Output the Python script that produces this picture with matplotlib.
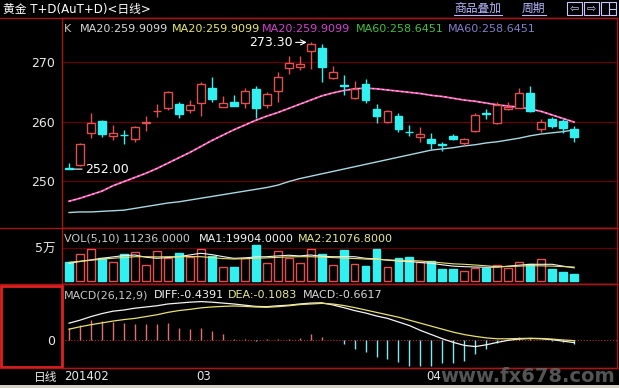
import numpy as np
import matplotlib
matplotlib.use('Agg')
import matplotlib.pyplot as plt
import matplotlib.transforms as mtransforms
from matplotlib.lines import Line2D
from matplotlib.patches import Rectangle

# ---- datos (velas diarias, oro T+D) ----
opens = [252.2, 252.7, 258.1, 260.1, 257.6, 257.8, 257.1, 259.8, 261.7, 262.3,
         262.9, 261.9, 263.1, 265.6, 262.4, 263.3, 263.1, 265.5, 262.8, 265.1,
         269.0, 269.2, 271.8, 272.4, 267.3, 266.1, 263.9, 266.3, 262.1, 259.9,
         260.9, 258.3, 257.4, 257.1, 256.2, 257.6, 256.4, 258.4, 261.4, 259.7,
         262.1, 262.3, 264.8, 258.7, 260.4, 260.1, 258.7]
highs = [253.0, 256.4, 261.4, 260.2, 259.4, 258.6, 259.2, 261.0, 263.0, 265.1,
         263.3, 263.6, 266.6, 267.5, 264.3, 264.5, 265.6, 266.0, 264.9, 268.3,
         271.0, 271.0, 273.3, 273.0, 269.4, 267.9, 266.8, 267.2, 263.0, 261.9,
         261.4, 259.4, 259.1, 258.1, 256.6, 257.9, 257.2, 261.4, 262.1, 263.3,
         263.2, 265.7, 266.0, 260.5, 260.8, 260.4, 259.2]
lows = [252.0, 252.5, 257.2, 257.4, 256.9, 256.3, 256.5, 258.4, 260.7, 262.0,
        260.6, 261.4, 260.9, 263.3, 262.4, 262.6, 262.3, 260.6, 262.2, 263.3,
        268.0, 268.7, 268.9, 266.6, 267.1, 264.4, 263.8, 263.1, 259.7, 259.8,
        258.2, 257.6, 256.5, 255.3, 255.1, 256.9, 255.8, 258.2, 260.4, 259.6,
        261.9, 262.2, 261.6, 258.2, 258.9, 258.0, 256.6]
closes = [252.1, 256.2, 259.7, 257.9, 258.1, 257.7, 259.1, 259.9, 261.8, 265.0,
          261.3, 262.7, 266.3, 263.8, 263.1, 262.6, 265.1, 262.3, 264.6, 267.5,
          269.8, 269.7, 273.0, 269.2, 268.3, 266.0, 265.5, 263.6, 260.9, 261.8,
          258.7, 258.2, 257.9, 256.4, 256.1, 257.1, 257.1, 261.1, 261.3, 262.8,
          262.4, 264.8, 261.8, 259.9, 259.2, 258.9, 257.4]

ma20 = [246.6, 247.1, 247.7, 248.3, 249.2, 249.9, 250.6, 251.3, 252.1, 253.0,
        253.9, 254.8, 255.8, 256.8, 257.7, 258.6, 259.4, 260.2, 260.9, 261.5,
        262.2, 262.9, 263.6, 264.3, 264.8, 265.2, 265.5, 265.6, 265.5, 265.3,
        265.1, 264.9, 264.7, 264.4, 264.2, 263.9, 263.6, 263.4, 263.1, 262.8,
        262.6, 262.4, 262.1, 261.7, 261.1, 260.5, 259.9]
ma60 = [244.7, 244.8, 244.8, 244.9, 245.0, 245.1, 245.4, 245.7, 246.0, 246.3,
        246.5, 246.8, 247.1, 247.4, 247.7, 248.0, 248.3, 248.6, 248.9, 249.3,
        249.9, 250.4, 250.8, 251.2, 251.6, 252.0, 252.4, 252.8, 253.2, 253.6,
        254.0, 254.4, 254.8, 255.2, 255.4, 255.6, 255.9, 256.1, 256.4, 256.6,
        256.9, 257.2, 257.6, 257.9, 258.1, 258.3, 258.6]

volume = [29200, 40400, 48500, 34400, 29000, 40400, 43400, 24200, 45400, 35300,
          42400, 36800, 48500, 37900, 21700, 21200, 34400, 54500, 26800, 45400,
          35300, 26800, 48500, 40400, 24200, 47000, 25700, 23200, 48500, 21200,
          34400, 35900, 28300, 30300, 18200, 18200, 15200, 19200, 19200, 24200,
          19200, 28300, 25200, 33300, 18200, 13200, 11236]
vol_ma1 = [26800, 29500, 32000, 34400, 36500, 38500, 39400, 36000, 34400, 35500,
           36800, 39500, 42000, 40000, 37000, 34400, 35000, 36500, 36800, 38000,
           39000, 38000, 39400, 37500, 36800, 36800, 36800, 34400, 33500, 31500,
           30300, 29500, 28000, 26800, 24500, 22500, 21700, 21200, 20800, 21000,
           22500, 24000, 25300, 25300, 25300, 22500, 19904]
vol_ma2 = [28300, 30000, 31500, 33000, 34500, 35500, 36800, 36800, 36500, 36800,
           36800, 37000, 36800, 35500, 34000, 33300, 33800, 34400, 35000, 35800,
           36500, 36800, 36800, 36300, 35500, 34800, 34000, 33300, 32700, 32000,
           31500, 31000, 30300, 29000, 27500, 26000, 25300, 24200, 23000, 21700,
           22000, 22500, 23200, 23000, 22500, 21800, 21077]

diff = [2.8, 3.3, 3.9, 4.4, 4.8, 5.0, 5.3, 5.5, 5.7, 6.0,
        6.15, 6.3, 6.4, 6.3, 6.15, 6.0, 5.8, 5.6, 5.55, 5.7,
        5.8, 6.0, 6.15, 6.2, 5.85, 5.4, 4.9, 4.5, 4.0, 3.6,
        3.0, 2.4, 1.6, 0.9, 0.2, -0.4, -0.9, -1.1, -0.8, -0.4,
        -0.05, 0.15, 0.25, 0.2, 0.05, -0.2, -0.44]
dea = [1.8, 2.2, 2.55, 2.85, 3.15, 3.4, 3.6, 3.9, 4.2, 4.6,
       4.9, 5.1, 5.35, 5.5, 5.6, 5.67, 5.6, 5.5, 5.45, 5.55,
       5.7, 5.9, 6.0, 6.1, 6.0, 5.75, 5.4, 5.0, 4.6, 4.2,
       3.8, 3.3, 2.8, 2.3, 1.8, 1.3, 0.9, 0.6, 0.35, 0.2,
       0.2, 0.25, 0.28, 0.25, 0.15, 0.0, -0.11]
macd_hist = [1.94, 2.5, 3.33, 3.2, 3.05, 2.8, 2.67, 2.6, 2.6, 2.8,
             1.94, 1.78, 1.94, 1.5, 1.0, 0.2, 0.1, -0.2, 0.1, 0.15,
             0.2, 0.4, 1.0, 0.55, 0.05, -0.67, -1.5, -1.94, -2.78, -3.2,
             -3.7, -4.3, -4.4, -4.4, -3.9, -3.9, -3.55, -2.4, -1.5, -0.55,
             0.1, 0.45, 0.3, 0.05, -0.1, -0.4, -0.66]

date_idx = [0, 12, 33]
date_labels = ['201402', '03', '04']

# ---- colores ----
RED = '#e05050'
CYAN = '#33f0f0'
BORDER = '#a01818'
GRID = '#640000'

plt.rcParams['font.family'] = ['DejaVu Sans', 'Noto Sans CJK SC']

W, H = 619, 388
fig = plt.figure(figsize=(W / 100, H / 100), dpi=100, facecolor='black')


def fx(x):
    return x / W


def fy(y):
    return 1 - y / H


def panel(top, bottom):
    ax = fig.add_axes([fx(62), fy(bottom), fx(617) - fx(62), fy(top) - fy(bottom)])
    ax.set_facecolor('black')
    for s in ax.spines.values():
        s.set_color(BORDER)
        s.set_linewidth(1)
    ax.set_xticks([])
    ax.tick_params(axis='y', length=0, pad=5, labelcolor='#e8e8e8', labelsize=9)
    ax.set_xlim(-0.64, 49.9)
    return ax


ax_k = panel(18, 228)
ax_v = panel(228, 284)
ax_m = panel(284, 368)

x = np.arange(len(closes))
up = [c >= o for o, c in zip(opens, closes)]

# 1. velas
ax_k.set_ylim(242.1, 277.4)
ax_k.set_yticks([250, 260, 270])
ax_k.yaxis.grid(True, color=GRID, lw=0.9)
ax_k.set_axisbelow(True)
ax_k.plot(x, ma60, color='#a8d8e0', lw=1, zorder=2)
ax_k.plot(x, ma20, color='#ff5fb8', lw=1.3, zorder=2)
ax_k.plot(x, ma20, color='#ffd0ea', lw=0.7, dashes=(2, 3), zorder=2)
for i in range(len(closes)):
    col = RED if up[i] else CYAN
    top = max(opens[i], closes[i])
    bot = min(opens[i], closes[i])
    ax_k.vlines(x[i], top, highs[i], color=col, lw=1, zorder=3)
    ax_k.vlines(x[i], lows[i], bot, color=col, lw=1, zorder=3)
    ax_k.bar(x[i], max(top - bot, 0.05), bottom=bot, width=0.72,
             facecolor='black' if up[i] else col, edgecolor=col, lw=1, zorder=4)

i_max = int(np.argmax(highs))
ax_k.annotate('273.30', xy=(x[i_max] - 0.35, highs[i_max]), xytext=(-10, 0),
              textcoords='offset points', ha='right', va='center', color='white', fontsize=9,
              arrowprops=dict(arrowstyle='->', color='white', lw=0.8, shrinkA=0, shrinkB=0))
i_min = int(np.argmin(lows))
ax_k.annotate('252.00', xy=(x[i_min] + 0.3, lows[i_min]), xytext=(9, 0),
              textcoords='offset points', ha='left', va='center', color='white', fontsize=9,
              arrowprops=dict(arrowstyle='-', color='white', lw=0.8, shrinkA=0, shrinkB=0))

# 2. volumen
ax_v.set_ylim(-4545, 80300)
ax_v.set_yticks([50000])
ax_v.set_yticklabels(['5万'])
ax_v.yaxis.grid(True, color=GRID, lw=0.9)
ax_v.set_axisbelow(True)
for i in range(len(volume)):
    col = RED if up[i] else CYAN
    ax_v.bar(x[i], volume[i], width=0.72, facecolor='black' if up[i] else col,
             edgecolor=col, lw=1, zorder=2)
ax_v.plot(x, vol_ma1, color='#f4f4f4', lw=0.8, zorder=3)
ax_v.plot(x, vol_ma2, color='#e8e070', lw=0.8, zorder=3)

# 3. MACD
ax_m.set_ylim(-4.67, 9.33)
ax_m.set_yticks([0])
ax_m.axhline(0, color='#b03030', lw=0.8, ls=':')
hist_cols = ['#e07070' if v >= 0 else '#7fe8f0' for v in macd_hist]
ax_m.vlines(x, 0, macd_hist, colors=hist_cols, lw=1)
ax_m.plot(x, diff, color='#f4f4f4', lw=0.9)
ax_m.plot(x, dea, color='#e8e070', lw=0.9)

# fechas en la barra inferior
trans = mtransforms.blended_transform_factory(ax_m.transData, ax_m.transAxes)
for i, lab in zip(date_idx, date_labels):
    ax_m.text(i - 0.45, -0.107, lab, transform=trans, ha='left', va='center',
              color='#e8e8e8', fontsize=8.5)

# ---- textos de cabecera y leyendas ----
def ftext(px, py, s, **kw):
    kw.setdefault('va', 'center')
    kw.setdefault('fontsize', 8)
    fig.text(fx(px), fy(py), s, **kw)


ftext(3, 9, '黄金 T+D(AuT+D)<日线>', color='white', fontsize=8.5)
ftext(454, 8, '商品叠加', color='#b8b8ff', fontsize=8.5)
ftext(522, 8, '周期', color='#b8b8ff', fontsize=8.5)
fig.add_artist(Line2D([fx(454), fx(502)], [fy(15), fy(15)], color='#b8b8ff', lw=0.8))
fig.add_artist(Line2D([fx(522), fx(546)], [fy(15), fy(15)], color='#b8b8ff', lw=0.8))
for bx, glyph in zip([567, 584, 601], ['⇦', '⇨', '']):
    fig.add_artist(Rectangle((fx(bx), fy(15)), fx(15), fy(2) - fy(15),
                             facecolor='none', edgecolor='#c8c8ff', lw=0.8))
    if glyph:
        ftext(bx + 7.5, 8.5, glyph, color='#c8c8ff', fontsize=8, ha='center')
fig.add_artist(Line2D([fx(609), fx(609)], [fy(3), fy(14)], color='#c8c8ff', lw=0.8))
fig.add_artist(Line2D([fx(609), fx(615)], [fy(8.5), fy(8.5)], color='#c8c8ff', lw=0.8))

ftext(64, 28.5, 'K', color='#c8c8c8')
ftext(80, 28.5, 'MA20:259.9099', color='#d8d8d8')
ftext(172, 28.5, 'MA20:259.9099', color='#e8e870')
ftext(262, 28.5, 'MA20:259.9099', color='#d040d0')
ftext(356, 28.5, 'MA60:258.6451', color='#40c040')
ftext(448, 28.5, 'MA60:258.6451', color='#8080c8')

ftext(64, 238.5, 'VOL(5,10) 11236.0000', color='#c8c8c8')
ftext(199, 238.5, 'MA1:19904.0000', color='#f4f4f4')
ftext(298, 238.5, 'MA2:21076.8000', color='#e8e890')

ftext(64, 295, 'MACD(26,12,9)', color='#c8c8c8')
ftext(154, 295, 'DIFF:-0.4391', color='#f4f4f4')
ftext(228, 295, 'DEA:-0.1083', color='#e8e890')
ftext(303, 295, 'MACD:-0.6617', color='#d8d8d8')

ftext(57, 377, '日线', color='#e8e8e8', fontsize=8.5, ha='right')
ftext(528, 377, 'www.fx678.com', color='#6a6a6a', fontsize=14, ha='center',
      fontweight='bold', alpha=0.8)

# lineas separadoras de ancho completo y marco del panel MACD
for yy in [17.5, 228, 284, 368]:
    fig.add_artist(Line2D([0, fx(617)], [fy(yy), fy(yy)], color=BORDER, lw=1))
fig.add_artist(Rectangle((fx(1), fy(367)), fx(61), fy(285.5) - fy(367),
                         facecolor='none', edgecolor='#e02020', lw=2))
fig.add_artist(Rectangle((0, 0), 1, fy(385), facecolor='#d4d0c8', edgecolor='none'))

plt.savefig('out.png', dpi=100, facecolor='black')
